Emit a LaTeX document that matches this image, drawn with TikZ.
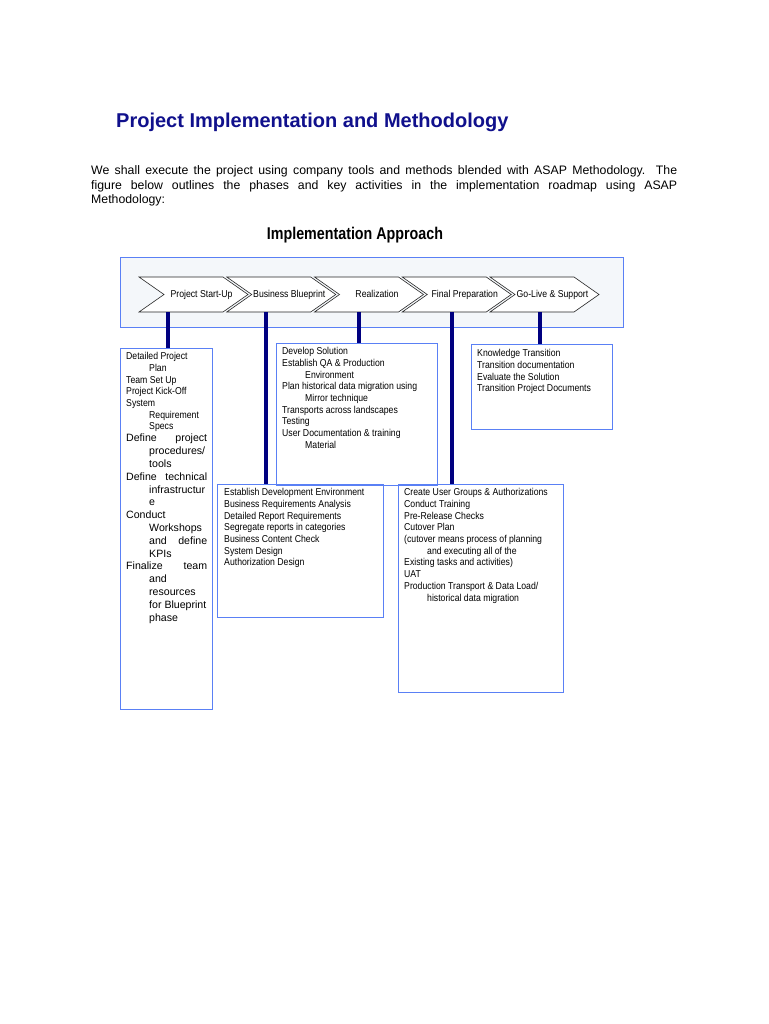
\documentclass[tikz,border=0pt]{standalone}
\usepackage{fontspec}
\setmainfont{Liberation Sans}
\newfontfamily\narrowf[FakeStretch=0.87]{Liberation Sans}
\newfontfamily\headf[FakeStretch=0.84]{Liberation Sans}
\usetikzlibrary{shapes.symbols}
\definecolor{navyt}{RGB}{16,16,140}
\definecolor{boxblue}{RGB}{90,128,245}
\definecolor{panelfill}{RGB}{244,247,250}
\definecolor{stemnavy}{RGB}{0,0,128}
\begin{document}
\begin{tikzpicture}[x=1pt,y=-1pt,
  box/.style={draw=boxblue, line width=0.9pt, anchor=north west, inner sep=0pt},
  chev/.style={signal, signal from=west, signal to=east, draw=black!85, line width=0.6pt, fill=white,
    minimum width=109pt, minimum height=35pt, inner sep=0pt, signal pointer angle=70},
  chevlabel/.style={font=\narrowf\fontsize{10}{12}\selectfont, inner sep=0pt, anchor=base},
  boxtext/.style={anchor=north west, inner sep=0pt, align=left, font=\narrowf\fontsize{10}{11.7}\selectfont},
  bigtext/.style={anchor=north west, inner sep=0pt, align=left, font=\fontsize{10.6}{12.8}\selectfont},
  bodytext/.style={anchor=base west, inner sep=0pt, font=\fontsize{12.3}{14.5}\selectfont},
  stem/.style={draw=stemnavy, line width=3.5pt},
]
\useasboundingbox (0,0) rectangle (768,1024);
\fill[white] (0,0) rectangle (768,1024);

% headings and body
\node[anchor=base west, inner sep=0pt, text=navyt, font=\bfseries\fontsize{20}{24}\selectfont] (title) at (116,128) {Project Implementation and Methodology};
\node[bodytext] (body1) at (91,175) {\makebox[586pt][s]{We shall execute the project using company tools and methods blended with ASAP Methodology.\ \ The}};
\node[bodytext] (body2) at (91,190) {\makebox[586pt][s]{figure below outlines the phases and key activities in the implementation roadmap using ASAP}};
\node[bodytext] (body3) at (91,204) {Methodology:};
\node[anchor=base west, inner sep=0pt, font=\headf\bfseries\fontsize{17}{20}\selectfont] (approach) at (266.7,240) {Implementation Approach};

% panel
\node[draw=boxblue, fill=panelfill, line width=0.9pt, minimum width=503pt, minimum height=70pt, anchor=north west, inner sep=0pt] (panel) at (120,257) {};

% stem x positions
\coordinate (s1) at (168,0);
\coordinate (s2) at (266,0);
\coordinate (s3) at (359,0);
\coordinate (s4) at (452,0);
\coordinate (s5) at (540,0);

% boxes
\node[box, minimum width=92pt, minimum height=361pt] (b1) at (120,348) {};
\node[box, minimum width=161pt, minimum height=142pt] (b3) at (276,343) {};
\node[box, minimum width=141pt, minimum height=85pt] (b5) at (471,344) {};
\node[box, minimum width=166pt, minimum height=133pt] (b2) at (217,484) {};
\node[box, minimum width=165pt, minimum height=208pt] (b4) at (398,484) {};

% chevrons
\node[chev] (p1) at (193.5,294.5) {};
\node[chev] (p2) at (281.25,294.5) {};
\node[chev] (p3) at (369,294.5) {};
\node[chev] (p4) at (456.75,294.5) {};
\node[chev] (p5) at (544.5,294.5) {};

% stems
\draw[stem] (s1 |- p1.south) -- (s1 |- b1.north);
\draw[stem] (s2 |- p2.south) -- (s2 |- b2.north);
\draw[stem] (s3 |- p3.south) -- (s3 |- b3.north);
\draw[stem] (s4 |- p4.south) -- (s4 |- b4.north);
\draw[stem] (s5 |- p5.south) -- (s5 |- b5.north);

\node[chevlabel] (l1) at ([xshift=8pt,yshift=-3pt]p1.center) {Project Start-Up};
\node[chevlabel] (l2) at ([xshift=8pt,yshift=-3pt]p2.center) {Business Blueprint};
\node[chevlabel] (l3) at ([xshift=8pt,yshift=-3pt]p3.center) {Realization};
\node[chevlabel] (l4) at ([xshift=8pt,yshift=-3pt]p4.center) {Final Preparation};
\node[chevlabel] (l5) at ([xshift=8pt,yshift=-3pt]p5.center) {Go-Live \& Support};

% box texts
\node[boxtext] (t1a) at (126,352.3) {Detailed Project\\
\hspace*{23pt}Plan\\
Team Set Up\\
Project Kick-Off\\
System\\
\hspace*{23pt}Requirement\\
\hspace*{23pt}Specs};
\node[bigtext] (t1b) at (126,434) {\makebox[81pt][s]{Define project}\\
\hspace*{23pt}procedures/\\
\hspace*{23pt}tools\\
\makebox[81pt][s]{Define technical}\\
\hspace*{23pt}infrastructur\\
\hspace*{23pt}e\\
Conduct\\
\hspace*{23pt}Workshops\\
\hspace*{23pt}\makebox[58pt][s]{and define}\\
\hspace*{23pt}KPIs\\
\makebox[81pt][s]{Finalize team}\\
\hspace*{23pt}and\\
\hspace*{23pt}resources\\
\hspace*{23pt}for Blueprint\\
\hspace*{23pt}phase};
\node[boxtext] (t3) at (282,347.3) {Develop Solution\\
Establish QA \& Production\\
\hspace*{23pt}Environment\\
Plan historical data migration using\\
\hspace*{23pt}Mirror technique\\
Transports across landscapes\\
Testing\\
User Documentation \& training\\
\hspace*{23pt}Material};
\node[boxtext] (t5) at (477,349.3) {Knowledge Transition\\
Transition documentation\\
Evaluate the Solution\\
Transition Project Documents};
\node[boxtext] (t2) at (224,488.3) {Establish Development Environment\\
Business Requirements Analysis\\
Detailed Report Requirements\\
Segregate reports in categories\\
Business Content Check\\
System Design\\
Authorization Design};
\node[boxtext] (t4) at (404,488.3) {Create User Groups \& Authorizations\\
Conduct Training\\
Pre-Release Checks\\
Cutover Plan\\
(cutover means process of planning\\
\hspace*{23pt}and executing all of the\\
Existing tasks and activities)\\
UAT\\
Production Transport \& Data Load/\\
\hspace*{23pt}historical data migration};
\end{tikzpicture}
\end{document}
